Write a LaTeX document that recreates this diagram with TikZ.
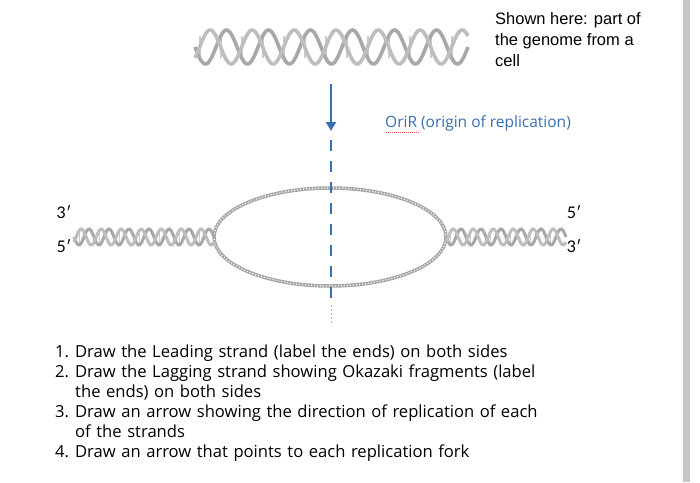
\documentclass[tikz,border=0pt]{standalone}
\usepackage{fontspec}
\setmainfont{Open Sans}
\newfontfamily\arialf{Liberation Sans}
\newfontfamily\primef{Lato}
\usetikzlibrary{arrows.meta}
\definecolor{ori}{HTML}{3A6FB0}
\definecolor{dna}{HTML}{A8A8A8}
\tikzset{
  strand/.style={dna, line width=3.2pt},
  rung/.style={dna!60, line width=1.4pt},
  lbl/.style={font=\primef\fontsize{16}{17}\selectfont, inner sep=0pt},
  item/.style={font=\fontsize{16.6}{19.5}\selectfont, anchor=north west, inner sep=0pt, text width=540pt, align=left}
}
\newcommand{\helix}[6]{% x0, x1, yc, amp, period, width
  \draw[strand, line width=#6] plot[domain=#1:#2, samples=150, smooth] (\x, {#3+#4*sin(360/#5*(\x-#1))});
  \draw[strand, dna!75, line width=#6] plot[domain=#1:#2, samples=150, smooth] (\x, {#3+#4*sin(360/#5*(\x-#1)+140)});
}
\begin{document}
\begin{tikzpicture}[x=1pt,y=-1pt]
\useasboundingbox (0,0) rectangle (700,482);
\fill[white] (0,0) rectangle (700,482);
\fill[gray!45] (683,0) rectangle (690,482);
% top helix
\foreach \k in {0,...,12}{
  \draw[rung] ({200+\k*21},36) -- ({200+\k*21},58);
}
\helix{195}{468}{47}{17}{42}{3.6pt}
\node[lbl, font=\arialf\fontsize{16.5}{21}\selectfont, anchor=north west, align=left] (shown) at (495,12) {Shown here: part of\\the genome from a\\cell};
% origin arrow
\coordinate (ta) at (331,84);
\coordinate (tb) at (331,131);
\draw[ori, line width=2.4pt, -{Triangle[length=9pt,width=10pt]}] (ta) -- (tb);
\node[lbl, text=ori, anchor=west, font=\fontsize{15.5}{17}\selectfont] (orir) at (385,123) {OriR (origin of replication)};
\draw[red!70, line width=0.4pt, dash pattern=on 1pt off 1pt] (386,132.5) -- (420,132.5);
% bubble
\draw[dna, line width=3.5pt] (330,237) ellipse (116 and 49);
\draw[white, line width=1.2pt, dash pattern=on 1pt off 2pt] (330,237) ellipse (116 and 49);
\foreach \k in {0,...,6}{\draw[rung, line width=1pt] ({79+\k*20},231) -- ({79+\k*20},243);}
\foreach \k in {0,...,5}{\draw[rung, line width=1pt] ({450+\k*20},231) -- ({450+\k*20},243);}
\helix{74}{214}{237}{8}{20}{3pt}
\helix{446}{566}{237}{8}{20}{3pt}
% dashed line
\coordinate (da) at (331,140);
\coordinate (db) at (331,305);
\coordinate (dc) at (331,325);
\draw[ori, line width=2.4pt, dash pattern=on 11pt off 10pt] (da) -- (db);
\draw[gray!60, line width=1pt, dash pattern=on 2pt off 2pt] (db) -- (dc);
% end labels
\node[lbl] (l3) at (64,212) {3′};
\node[lbl] (l5) at (64,246) {5′};
\node[lbl] (r5) at (574,212) {5′};
\node[lbl] (r3) at (574,246) {3′};
% list
\node[item] (i1) at (55,345) {1.\hspace{6pt}Draw the Leading strand (label the ends) on both sides};
\node[item] (i2) at (55,365) {2.\hspace{6pt}Draw the Lagging strand showing Okazaki fragments (label\\\hspace*{20pt}the ends) on both sides};
\node[item] (i3) at (55,405) {3.\hspace{6pt}Draw an arrow showing the direction of replication of each\\\hspace*{20pt}of the strands};
\node[item] (i4) at (55,445) {4.\hspace{6pt}Draw an arrow that points to each replication fork};
\end{tikzpicture}
\end{document}
